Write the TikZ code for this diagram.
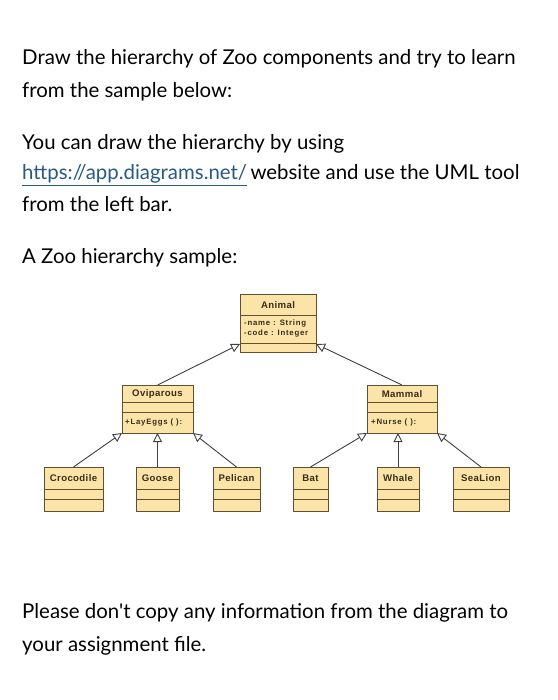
\documentclass[tikz,border=0pt]{standalone}
\usepackage{fontspec}
\setmainfont{Lato}[Ligatures=TeXOff]
\newfontfamily\umlfont{Liberation Sans}[LetterSpace=4]
\newfontfamily\umlsmall{Liberation Sans}[LetterSpace=10]
\usetikzlibrary{arrows.meta,calc}

\definecolor{boxfill}{RGB}{252,228,168}
\definecolor{boxline}{RGB}{95,80,50}
\definecolor{boxtext}{RGB}{55,45,25}
\definecolor{linkblue}{RGB}{40,90,130}

\tikzset{
  para/.style={anchor=base west, inner sep=0pt, font=\fontsize{20.4}{24}\selectfont},
  classbox/.style={draw=boxline, fill=boxfill, line width=1pt, inner sep=0pt, outer sep=0pt},
  classname/.style={font=\umlfont\bfseries\fontsize{9.6}{10}\selectfont, text=boxtext, inner sep=0pt},
  member/.style={font=\umlsmall\bfseries\fontsize{7.8}{8}\selectfont, text=boxtext, inner sep=0pt, anchor=west},
  split/.style={draw=boxline, line width=1pt},
  inherit/.style={draw=black!75, line width=0.9pt, -{Triangle[open, length=9pt, width=9pt]}}
}

\begin{document}
\begin{tikzpicture}[x=1pt, y=-1pt]
	\useasboundingbox (0,0) rectangle (557,700);
	\fill[white] (0,0) rectangle (557,700);

	% text above and below
	\node[para] (line1) at (22,65) {Draw the hierarchy of Zoo components and try to learn};
	\node[para] (line2) at (22,98) {from the sample below:};
	\node[para] (line3) at (22,150) {You can draw the hierarchy by using};
	\node[para] (line4) at (22,180) {\textcolor{linkblue}{\underline{https://app.diagrams.net/}}\,website and use the UML tool};
	\node[para] (line5) at (22,212) {from the left bar.};
	\node[para] (line6) at (22,263) {A Zoo hierarchy sample:};
	\node[para] (line7) at (22,618) {Please don't copy any information from the diagram to};
	\node[para] (line8) at (22,651) {your assignment file.};

	% base class
	\node[classbox, minimum width=76, minimum height=58] (animal) at (278,323) {};
	\draw[split] ($(animal.north west)+(0,21)$) -- ($(animal.north east)+(0,21)$);
	\draw[split] ($(animal.north west)+(0,49)$) -- ($(animal.north east)+(0,49)$);
	\node[classname] (animal-t) at (278,305) {Animal};
	\node[member] (animal-a1) at (244,323) {-name : String};
	\node[member] (animal-a2) at (244,333) {-code : Integer};

	% middle classes
	\node[classbox, minimum width=71, minimum height=48] (oviparous) at (157.5,409) {};
	\draw[split] ($(oviparous.north west)+(0,17)$) -- ($(oviparous.north east)+(0,17)$);
	\draw[split] ($(oviparous.north west)+(0,27)$) -- ($(oviparous.north east)+(0,27)$);
	\node[classname] (oviparous-t) at (157.5,394) {Oviparous};
	\node[member] (oviparous-m1) at (125,422) {+LayEggs ( ):};

	\node[classbox, minimum width=70, minimum height=48] (mammal) at (402,409) {};
	\draw[split] ($(mammal.north west)+(0,17)$) -- ($(mammal.north east)+(0,17)$);
	\draw[split] ($(mammal.north west)+(0,27)$) -- ($(mammal.north east)+(0,27)$);
	\node[classname] (mammal-t) at (402,394) {Mammal};
	\node[member] (mammal-m1) at (371,422) {+Nurse ( ):};

	% leaf classes
	\foreach \n/\t/\l/\r in {croc/Crocodile/44/103, goose/Goose/136/179, pelican/Pelican/213/260,
			bat/Bat/293/328, whale/Whale/377/419, sealion/SeaLion/453/509} {
		\node[classbox, minimum width=\r-\l, minimum height=44] (\n) at ({(\l+\r)/2},489) {};
		\draw[split] ($(\n.north west)+(0,22)$) -- ($(\n.north east)+(0,22)$);
		\draw[split] ($(\n.north west)+(0,32)$) -- ($(\n.north east)+(0,32)$);
		\node[classname] (\n-t) at ($(\n.north)+(0,11)$) {\t};
	}

	% generalisations
	\draw[inherit] (oviparous.north) -- ($(animal.south west)+(0,-8)$);
	\draw[inherit] (mammal.north) -- ($(animal.south east)+(0,-8)$);
	\draw[inherit] (croc.north) -- (oviparous.south west);
	\draw[inherit] (goose.north) -- (oviparous.south);
	\draw[inherit] (pelican.north) -- (oviparous.south east);
	\draw[inherit] (bat.north) -- (mammal.south west);
	\draw[inherit] (whale.north) -- (whale.north |- mammal.south);
	\draw[inherit] (sealion.north) -- (mammal.south east);
\end{tikzpicture}
\end{document}
